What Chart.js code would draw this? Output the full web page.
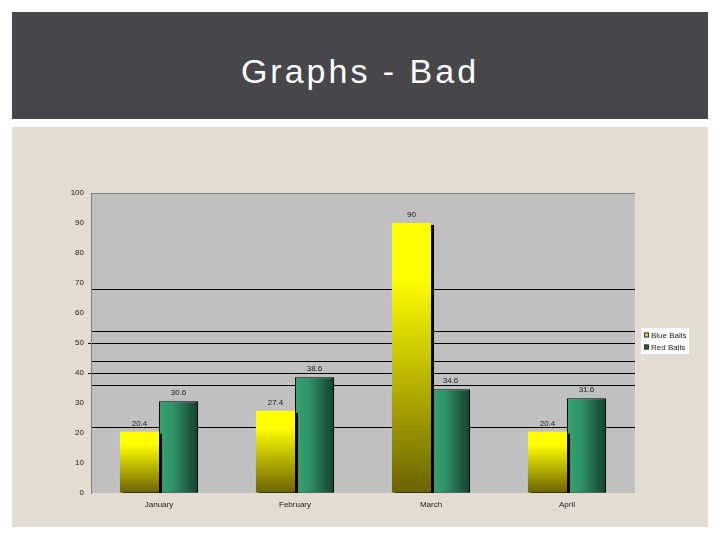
<!DOCTYPE html>
<html>
<head>
<meta charset="utf-8">
<title>Graphs - Bad</title>
<script src="https://cdn.jsdelivr.net/npm/chart.js@4"></script>
<style>
  html, body { margin: 0; padding: 0; background: #fff; }
  body { width: 720px; height: 540px; position: relative; overflow: hidden; }
  .header {
    position: absolute; left: 12px; top: 12px; width: 696px; height: 107px;
    background: #47464b;
  }
  .header h1 {
    margin: 0; position: absolute; left: 0; right: 0; top: 40px;
    text-align: center; color: #fff; font: 400 34px 'Liberation Sans', Arial, sans-serif;
    letter-spacing: 3px;
  }
  .panel {
    position: absolute; left: 12px; top: 127px; width: 696px; height: 400px;
    background: #e3dcd0;
  }
</style>
</head>
<body>
<div class="header"><h1>Graphs - Bad</h1></div>
<div class="panel"><canvas id="balls"></canvas></div>
<script>
'use strict';

// values
var categories = ['January', 'February', 'March', 'April'];
var seriesNames = ['Blue Balls', 'Red Balls'];
var blueBalls = [20.4, 27.4, 90, 20.4];
var redBalls = [30.6, 38.6, 34.6, 31.6];
var yTickValues = [0, 10, 20, 30, 40, 50, 60, 70, 80, 90, 100];
// the "bad" part: gridlines at odd places
var gridValues = [22, 36, 40, 44, 50, 54, 68];

var FONT = "'Liberation Sans', Arial, sans-serif";

/* ── plot background, bar gradients, shadows, labels, legend ── */
var slidePlugin = {
    id: 'slide',
    beforeDraw: function (chart) {
        var a = chart.chartArea, ctx = chart.ctx;
        ctx.save();
        ctx.fillStyle = '#c0c0c0';
        ctx.fillRect(a.left, a.top, a.right - a.left, a.bottom - a.top);
        ctx.restore();
    },
    beforeDatasetsDraw: function (chart) {
        var ctx = chart.ctx;
        chart.getDatasetMeta(0).data.forEach(function (el) {
            var g = ctx.createLinearGradient(0, el.y, 0, el.base);
            g.addColorStop(0, '#ffff00');
            g.addColorStop(0.2, '#ffff00');
            g.addColorStop(1, '#6b6400');
            el.options.backgroundColor = g;
        });
        chart.getDatasetMeta(1).data.forEach(function (el) {
            var l = el.x - el.width / 2, r = el.x + el.width / 2;
            var g = ctx.createLinearGradient(l, 0, r, 0);
            g.addColorStop(0, '#36a370');
            g.addColorStop(0.35, '#2f9366');
            g.addColorStop(1, '#163f2b');
            el.options.backgroundColor = g;
        });
        ctx.save();
        ctx.shadowColor = '#000';
        ctx.shadowOffsetX = 3;
        ctx.shadowOffsetY = 2;
        ctx.shadowBlur = 0;
    },
    afterDatasetsDraw: function (chart) {
        var ctx = chart.ctx;
        ctx.restore();

        // value labels above each bar
        ctx.save();
        ctx.font = '8px ' + FONT;
        ctx.fillStyle = '#222';
        ctx.textAlign = 'center';
        ctx.textBaseline = 'bottom';
        chart.data.datasets.forEach(function (ds, i) {
            chart.getDatasetMeta(i).data.forEach(function (el, j) {
                ctx.fillText(String(ds.data[j]), el.x, el.y - 4);
            });
        });
        ctx.restore();
    },
    afterDraw: function (chart) {
        var a = chart.chartArea, ctx = chart.ctx;
        ctx.save();
        // grey frame line along the top of the plot
        ctx.strokeStyle = '#808080';
        ctx.lineWidth = 1;
        ctx.beginPath();
        ctx.moveTo(a.left, a.top + 0.5);
        ctx.lineTo(a.right, a.top + 0.5);
        ctx.stroke();

        // legend box
        var bx = a.right + 6, by = a.top + 135;
        ctx.fillStyle = '#fff';
        ctx.fillRect(bx, by, 48, 26);
        ctx.font = '8px ' + FONT;
        ctx.textBaseline = 'middle';
        var marks = ['#d8d84a', '#2c5a42'];
        seriesNames.forEach(function (name, i) {
            var y = by + 7 + i * 12;
            ctx.fillStyle = marks[i];
            ctx.fillRect(bx + 3, y - 2.5, 5, 5);
            ctx.strokeStyle = '#333';
            ctx.strokeRect(bx + 3.5, y - 2, 4, 4);
            ctx.fillStyle = '#222';
            ctx.fillText(name, bx + 10, y + 0.5);
        });
        ctx.restore();
    },
};

new Chart(document.getElementById('balls'), {
    type: 'bar',
    data: {
        labels: categories,
        datasets: [{
            label: seriesNames[0],
            data: blueBalls,
            backgroundColor: function () { return '#ffff00'; },
            borderWidth: 0,
        }, {
            label: seriesNames[1],
            data: redBalls,
            backgroundColor: function () { return '#2f9366'; },
            borderColor: '#000',
            borderWidth: 1,
        }],
    },
    options: {
        responsive: true,
        maintainAspectRatio: false,
        animation: false,
        events: [],
        layout: { padding: { top: 66, right: 73, bottom: 10, left: 0 } },
        datasets: { bar: { categoryPercentage: 0.574, barPercentage: 1 } },
        plugins: {
            legend: { display: false },
            tooltip: { enabled: false },
        },
        scales: {
            x: {
                grid: { display: false, drawTicks: false },
                border: { display: false },
                ticks: { color: '#222', padding: 7, font: { family: FONT, size: 8 } },
                afterFit: function (s) { s.height = 24; },
            },
            y: {
                min: 0,
                max: 100,
                afterBuildTicks: function (s) {
                    s.ticks = yTickValues.map(function (v) { return { value: v }; });
                },
                grid: {
                    drawOnChartArea: false,
                    tickLength: 3,
                    tickColor: function (c) {
                        return gridValues.indexOf(c.tick.value) >= 0 ? '#000' : 'rgba(0,0,0,0)';
                    },
                },
                border: { color: '#808080', width: 1 },
                ticks: { color: '#222', padding: 4, font: { family: FONT, size: 8 } },
                afterFit: function (s) { s.width = 79; },
            },
            yg: {
                position: 'left',
                min: 0,
                max: 100,
                afterBuildTicks: function (s) {
                    s.ticks = gridValues.map(function (v) { return { value: v }; });
                },
                grid: { color: '#000', lineWidth: 1, drawTicks: false },
                border: { display: false },
                ticks: { display: false },
                afterFit: function (s) { s.width = 0; },
            },
        },
    },
    plugins: [slidePlugin],
});
</script>
</body>
</html>
